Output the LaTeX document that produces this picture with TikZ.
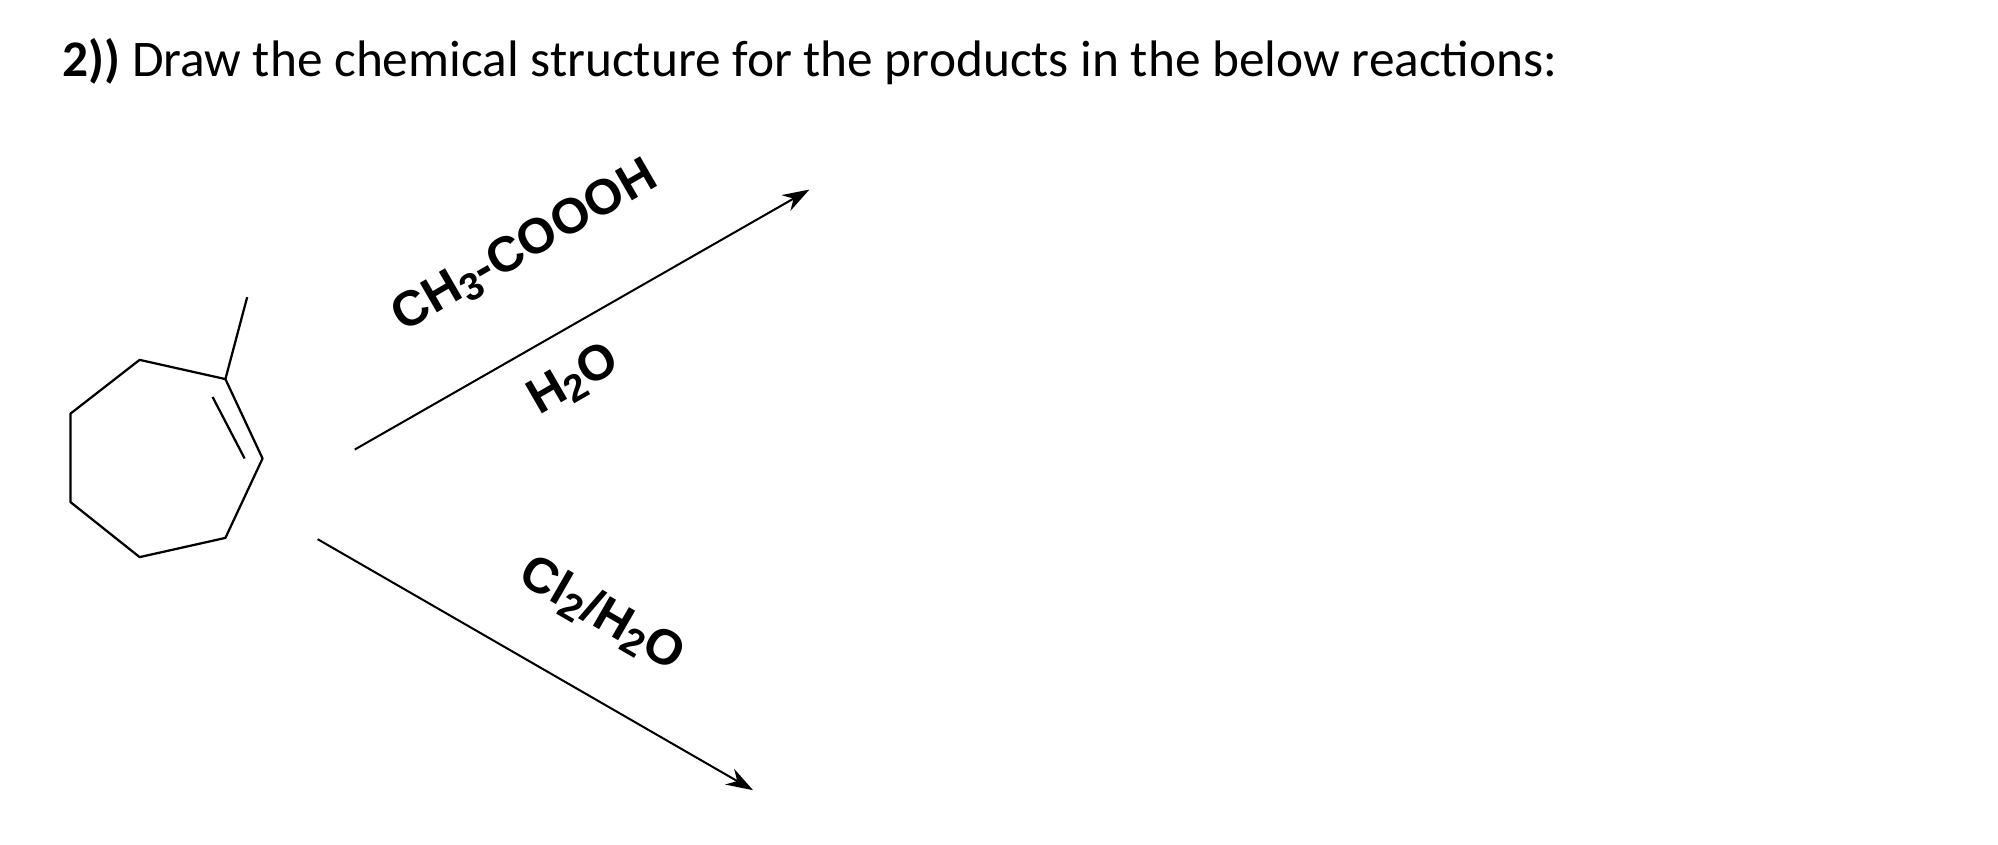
\documentclass[tikz,border=0pt]{standalone}
\usepackage{fontspec}
\usetikzlibrary{arrows.meta}
\setmainfont{Carlito}
\newfontfamily\arialfont{Liberation Sans}
\newcommand{\mysub}[1]{\raisebox{-0.3ex}{\fontsize{8.5}{9}\selectfont #1}}
\begin{document}
\begin{tikzpicture}[x={(0.01cm,0)},y={(0,-0.01cm)},
  bond/.style={line width=0.5pt},
  rxn/.style={line width=0.45pt,-{Stealth[length=6pt,width=4pt]}},
  reag/.style={font=\arialfont\bfseries\fontsize{11}{12}\selectfont,inner sep=0pt}]
\useasboundingbox (0,0) rectangle (1560,659);
\node[anchor=west,inner sep=0pt,font=\fontsize{11.4}{13}\selectfont] (title) at (48,48) {\textbf{2))} Draw the chemical structure for the products in the below reactions:};
\coordinate (a1) at (109,281); \coordinate (a2) at (176,296); \coordinate (a3) at (205,358);
\coordinate (a4) at (176,420); \coordinate (a5) at (109,435); \coordinate (a6) at (55,392);
\coordinate (a7) at (55,323); \coordinate (me) at (193,232);
\draw[bond,line join=round] (a1)--(a2)--(a3)--(a4)--(a5)--(a6)--(a7)--cycle;
\draw[bond] (a2)--(me);
\coordinate (d1) at (166,310); \coordinate (d2) at (191,358);
\draw[bond] (d1)--(d2);
\coordinate (s1) at (277,351); \coordinate (e1) at (632,148);
\coordinate (s2) at (248,421); \coordinate (e2) at (588,617);
\draw[rxn] (s1)--(e1);
\draw[rxn] (s2)--(e2);
\node[reag,rotate=30] (r1) at (410,193) {CH\mysub{3}-COOOH};
\node[reag,rotate=30] (r2) at (448,297) {H\mysub{2}O};
\node[reag,rotate=-30] (r3) at (470,480) {Cl\mysub{2}/H\mysub{2}O};
\end{tikzpicture}
\end{document}
